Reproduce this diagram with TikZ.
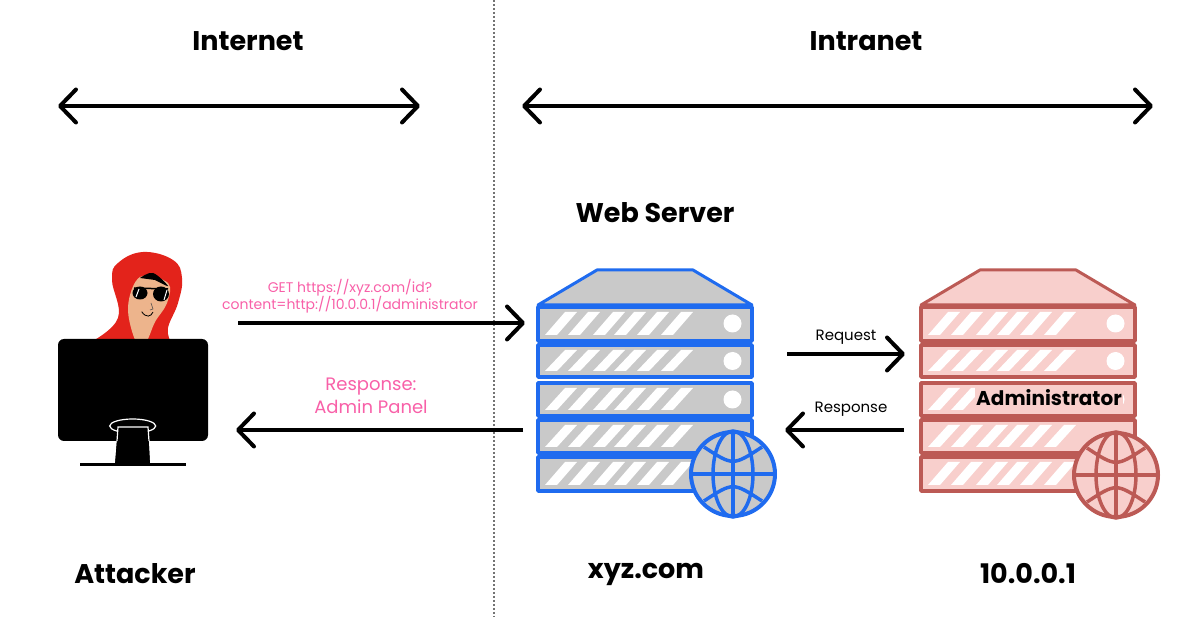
\documentclass[tikz,border=0pt]{standalone}
\usepackage{fontspec}
\setmainfont{Poppins}
\usetikzlibrary{arrows.meta,positioning}
\definecolor{blueline}{HTML}{1F6BEF}
\definecolor{greyfill}{HTML}{C9C9C9}
\definecolor{redline}{HTML}{BC5A55}
\definecolor{redfill}{HTML}{F8CFCC}
\definecolor{hoodred}{HTML}{E3231B}
\definecolor{skin}{HTML}{EDB48C}
\definecolor{pinktext}{HTML}{F860A8}

% one server icon: #1 name, #2 left edge, #3 line colour, #4 fill colour
\def\servericon#1#2#3#4{
	\begin{scope}[shift={(#2,0)}]
	\draw[draw=#3,fill=#4,line width=3pt,line join=round] (59,270) -- (155,270) -- (214,305) -- (0,305) -- cycle;
	\foreach \name/\top/\bot in {1/307/341,2/345/377,3/383/416,4/420/453,5/457/491}{
		\draw[draw=#3,fill=#4,line width=3.5pt,line join=round] (0,\top) rectangle (214,\bot);
		\coordinate (#1-rack-\name) at (107,{(\top+\bot)/2});
		\foreach \sx in {7,30,55,76,99,123}
		\fill[white] (\sx,\bot-6) -- (\sx+20,\top+5) -- (\sx+32,\top+5) -- (\sx+12,\bot-6) -- cycle;
	}
	\foreach \name/\y in {1/323.5,2/361,3/399.5}
	\fill[white] (194.5,\y) circle (9);
	\end{scope}
}
% the globe in the corner of a server icon
\def\globeicon#1#2#3#4#5{
	\begin{scope}[shift={(#2,#3)}]
	\node[circle,draw=#4,fill=#5,line width=4pt,minimum size=84pt,inner sep=0pt] (#1) at (0,0) {};
	\begin{scope}[draw=#4,line width=3.5pt]
	\draw (0,-43) -- (0,43);
	\draw (-43,0) -- (43,0);
	\draw (0,0) ellipse (20 and 43);
	\draw (-29,-27) .. controls (0,-8) .. (29,-27);
	\draw (-29,27) .. controls (0,8) .. (29,27);
	\end{scope}
	\end{scope}
}

\begin{document}
\begin{tikzpicture}[x=1pt,y=-1pt]
	\tikzstyle{title}=[font=\bfseries\fontsize{27}{30}\selectfont,text=black,inner sep=0pt]
	\tikzstyle{pinksmall}=[font=\fontsize{14}{17}\selectfont,text=pinktext,align=center,inner sep=0pt]
	\tikzstyle{pinkbig}=[font=\fontsize{18}{23}\selectfont,text=pinktext,align=center,inner sep=0pt]
	\tikzstyle{small}=[font=\fontsize{15}{18}\selectfont,text=black,inner sep=0pt]
	\tikzstyle{arrow}=[-{Straight Barb[length=16pt,width=33pt,line width=4pt,round]},line width=4pt]
	\tikzstyle{both arrow}=[{Straight Barb[length=16pt,width=33pt,line width=4pt,round]}-{Straight Barb[length=16pt,width=33pt,line width=4pt,round]},line width=4pt]

	\useasboundingbox (0,0) rectangle (1195,617);

	% Draw the border between the two networks
	\coordinate (border-top) at (494,0);
	\coordinate (border-bottom) at (494,617);
	\draw[black!55,line width=2pt,dotted] (border-top) -- (border-bottom);

	% Draw the attacker
	\draw[fill=hoodred,draw=none] plot[smooth,tension=.7] coordinates {(91,342) (118,318) (112,280) (118,263) (143,252) (173,260) (182,278) (178,303) (168,328) (171,342)} -- cycle;
	\fill[skin] plot[smooth cycle,tension=.6] coordinates {(140,277) (168,283) (167,303) (155,322) (146,342) (136,342) (128,307)};
	\fill[black] plot[smooth,tension=.6] coordinates {(140,278) (153,273) (168,286) (155,280)} -- cycle;
	\fill[black] (140,293) ellipse (7.5 and 6.5);
	\fill[black] (161,294) ellipse (8 and 7.5);
	\draw[black,line width=1.5pt] (134,288) -- (168,289);
	\draw[white,line width=1pt] (136,297) -- (139,289);
	\draw[white,line width=1pt] (164,300) -- (167,290);
	\draw[black,line width=.8pt] (141.7,311.7) .. controls (146,318) and (151,317) .. (153,312);
	\draw[black!70,line width=.6pt] (151,303) -- (153,309) -- (150,310);
	\node[draw=none,fill=black,rounded corners=6pt,minimum width=150pt,minimum height=102pt,inner sep=0pt] (monitor) at (133,390) {};
	\fill[black] (118,427) -- (148,427) -- (150,465) -- (115,465) -- cycle;
	\draw[white,line width=1.2pt] (132.7,426) ellipse (23 and 7);
	\fill[black] (118,428) -- (148,428) -- (150,465) -- (115,465) -- cycle;
	\draw[white,line width=1.2pt] (117,441) -- (118,427) -- (148,427) -- (149,441);
	\draw[black,line width=3pt] (80,465) -- (186,465);

	% Draw the two servers
	\servericon{web}{538}{blueline}{greyfill}
	\globeicon{webglobe}{733}{474}{blueline}{greyfill}
	\servericon{admin}{921}{redline}{redfill}
	\node[fill=redfill,font=\bfseries\fontsize{20}{24}\selectfont,inner sep=1pt,minimum height=26pt] (admintext) at (1049,398) {Administrator};
	\globeicon{adminglobe}{1116}{475}{redline}{redfill}

	% Place the end points of the arrows
	\coordinate (inet-l) at (58,106);
	\coordinate (inet-r) at (420,106);
	\coordinate (intra-l) at (522,106);
	\coordinate (intra-r) at (1153,106);
	\coordinate (get-from) at (238,323);
	\coordinate (get-to) at (525,323);
	\coordinate (resp-from) at (523,430);
	\coordinate (resp-to) at (236,430);
	\coordinate (req2-from) at (787,354);
	\coordinate (req2-to) at (905,354);
	\coordinate (resp2-from) at (904,430);
	\coordinate (resp2-to) at (785,430);

	% Draw the arrows
	\draw[both arrow] (inet-l) -- (inet-r);
	\draw[both arrow] (intra-l) -- (intra-r);
	\foreach \source/\dest in {get-from/get-to,resp-from/resp-to,req2-from/req2-to,resp2-from/resp2-to}
	\draw[arrow] (\source) -- (\dest);

	% Annotate everything
	\node[title] (internet) at (248,41) {Internet};
	\node[title] (intranet) at (866,41) {Intranet};
	\node[title] (webserver) at (655,213) {Web Server};
	\node[title] (attacker) at (135,574) {Attacker};
	\node[title] (xyz) at (646,574) {xyz.com};
	\node[title] (ip) at (1028,574) {10.0.0.1};
	\node[pinksmall] (getlabel) at (350,296.5) {GET https://xyz.com/id?\\content=http://10.0.0.1/administrator};
	\node[pinkbig] (resplabel) at (371,395.5) {Response:\\Admin Panel};
	\node[small] (reqlabel) at (846,337) {Request};
	\node[small] (resp2label) at (851,409) {Response};
\end{tikzpicture}
\end{document}
